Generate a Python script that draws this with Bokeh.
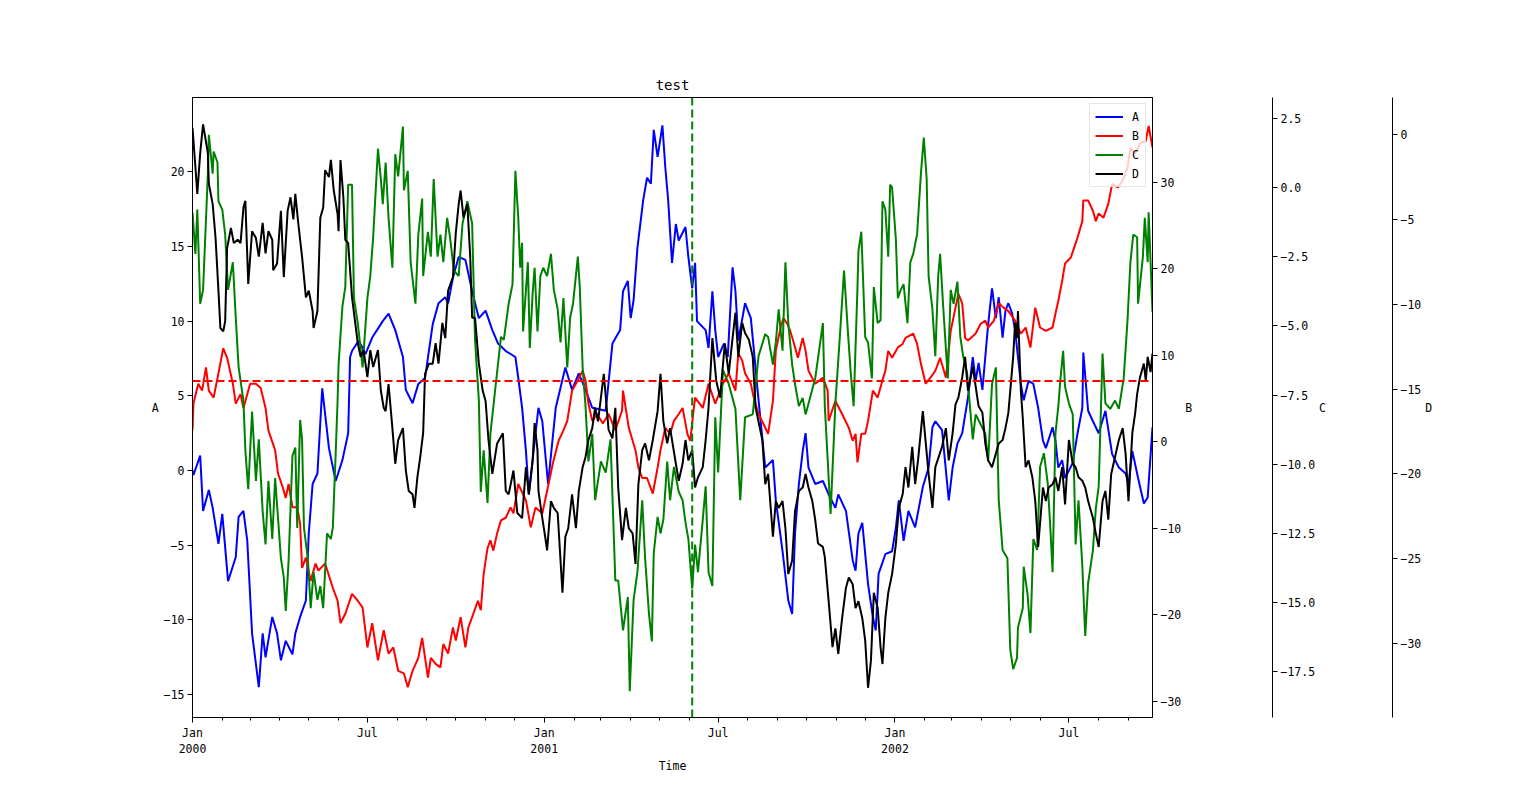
import pandas as pd

from bokeh.plotting import figure
from bokeh.models import Range1d, LinearAxis, FixedTicker, Span
from bokeh.embed import file_html
from bokeh.resources import INLINE

# Set vars
font = "DejaVu Sans Mono"
fsize = "11.5px"
line_width = 2
start_day = "2000-01-01"
end_day = "2002-09-26"
vline_day = "2001-06-04"
hline_a = 6

# Series A (left axis): days since start, values
a_days = [0, 1, 8, 11, 17, 21, 27, 31, 37, 45,
          48, 53, 57, 62, 69, 73, 76, 83, 88, 92,
          97, 104, 107, 112, 118, 121, 125, 130, 135, 142,
          149, 156, 162, 164, 166, 173, 180, 187, 198, 204,
          211, 219, 222, 229, 235, 242, 250, 256, 263, 266,
          271, 277, 284, 291, 298, 305, 312, 318, 326, 336,
          339, 343, 347, 350, 357, 360, 364, 370, 378, 388,
          395, 402, 409, 416, 430, 437, 445, 448, 453, 456,
          459, 463, 469, 473, 477, 480, 484, 489, 492, 495,
          499, 503, 506, 513, 516, 520, 523, 525, 534, 537,
          541, 544, 547, 553, 557, 562, 565, 568, 575, 581,
          584, 588, 596, 604, 607, 614, 620, 624, 627, 631,
          635, 638, 641, 648, 656, 662, 669, 672, 680, 687,
          690, 693, 697, 703, 708, 711, 714, 721, 728, 732,
          735, 740, 745, 752, 760, 766, 770, 773, 780, 787,
          791, 796, 801, 807, 812, 815, 818, 822, 825, 828,
          832, 836, 839, 843, 846, 849, 853, 856, 862, 865,
          870, 875, 880, 885, 888, 895, 898, 901, 905, 908,
          916, 921, 926, 927, 932, 937, 943, 950, 957, 964,
          971, 974, 978, 984, 990, 994, 999]
a_vals = [0.0, -0.3, 1.0, -2.7, -1.3, -2.5, -4.9, -2.9, -7.4, -5.8,
          -3.1, -2.7, -4.7, -10.9, -14.5, -10.9, -12.5, -9.8, -10.9, -12.7,
          -11.4, -12.3, -10.9, -9.8, -8.7, -4.2, -0.9, -0.2, 5.5, 1.5,
          -0.7, 0.7, 2.5, 7.6, 8.0, 8.7, 7.8, 8.9, 10.0, 10.5,
          9.4, 7.6, 5.4, 4.5, 5.8, 6.2, 9.8, 11.2, 11.6, 11.2,
          12.9, 14.3, 14.1, 12.0, 10.2, 10.7, 9.4, 8.5, 8.0, 7.6,
          6.2, 4.2, 1.3, -1.6, 2.5, 4.2, 3.3, -0.9, 4.2, 6.9,
          5.4, 6.5, 5.4, 4.2, 4.0, 8.5, 9.4, 12.0, 12.7, 10.2,
          11.4, 14.9, 18.1, 19.6, 19.2, 22.8, 21.0, 23.1, 20.3, 18.1,
          13.9, 16.5, 15.4, 16.3, 14.3, 12.2, 13.9, 10.0, 9.4, 8.2,
          12.0, 9.4, 7.6, 8.5, 7.6, 13.6, 12.0, 8.7, 11.2, 10.2,
          8.2, 5.4, 0.2, 0.7, -2.0, -5.4, -8.7, -9.6, -4.2, -0.9,
          1.3, 2.5, 0.2, -0.9, -0.7, -1.6, -2.5, -1.6, -2.7, -6.0,
          -6.7, -4.2, -3.5, -7.6, -9.8, -10.7, -6.9, -5.6, -5.4, -3.8,
          -2.0, -4.7, -2.7, -3.8, -1.1, 0.2, 2.9, 3.3, 2.7, -2.0,
          0.2, 1.8, 2.5, 4.9, 7.6, 6.0, 7.2, 5.4, 7.6, 9.8,
          12.2, 10.2, 11.6, 8.9, 10.7, 11.2, 10.5, 9.4, 5.8, 4.7,
          6.0, 5.8, 4.2, 2.0, 1.5, 2.9, 2.0, 0.2, 0.7, -0.5,
          0.5, 2.5, 4.2, 7.9, 4.0, 3.3, 2.5, 4.0, 1.1, 0.2,
          -0.2, -0.9, 1.3, -0.5, -2.2, -1.8, 2.9]

# Series B (right axis)
b_days = [0, 1, 6, 10, 14, 17, 22, 27, 32, 36,
          42, 45, 50, 53, 60, 66, 71, 76, 79, 86,
          89, 94, 97, 100, 104, 109, 112, 114, 118, 123,
          128, 131, 138, 146, 151, 154, 159, 166, 172, 177,
          182, 187, 193, 199, 204, 209, 214, 220, 224, 229,
          235, 239, 245, 248, 253, 258, 261, 266, 271, 274,
          279, 284, 287, 291, 297, 300, 303, 307, 310, 313,
          317, 321, 326, 331, 334, 339, 347, 352, 357, 364,
          369, 375, 381, 386, 390, 395, 401, 406, 409, 412,
          416, 421, 427, 433, 440, 447, 448, 454, 461, 464,
          468, 473, 479, 484, 487, 492, 497, 501, 506, 510,
          515, 518, 521, 523, 531, 537, 544, 552, 558, 565,
          568, 572, 575, 581, 584, 589, 594, 599, 604, 607,
          612, 615, 619, 622, 625, 630, 635, 638, 641, 648,
          656, 661, 662, 669, 676, 683, 687, 690, 692, 696,
          700, 703, 708, 713, 718, 721, 724, 728, 734, 739,
          742, 750, 754, 758, 763, 768, 773, 778, 784, 789,
          794, 797, 801, 804, 807, 815, 820, 825, 828, 834,
          839, 844, 849, 856, 862, 867, 872, 877, 882, 888,
          895, 898, 901, 905, 908, 914, 921, 926, 927, 932,
          937, 940, 943, 948, 953, 957, 963, 968, 973, 976,
          981, 986, 992, 995, 999]
b_vals = [1.3, 4.4, 6.7, 5.9, 8.6, 5.9, 5.1, 7.9, 10.8, 9.7,
          6.7, 4.4, 5.5, 3.9, 6.7, 6.7, 6.2, 3.9, 1.3, -1.0,
          -3.7, -5.3, -6.5, -4.9, -7.6, -7.6, -9.5, -14.6, -13.4, -16.1,
          -14.1, -14.9, -14.1, -16.9, -18.4, -21.0, -19.9, -17.6, -18.4, -19.2,
          -23.8, -21.0, -25.3, -21.8, -24.5, -23.8, -26.5, -26.8, -28.4, -26.5,
          -25.0, -22.7, -27.3, -25.0, -25.7, -26.1, -23.4, -24.5, -21.5, -23.0,
          -20.3, -23.8, -21.5, -20.3, -18.4, -19.5, -15.3, -12.3, -11.4, -12.6,
          -10.6, -9.1, -8.8, -7.6, -8.3, -4.9, -6.8, -9.9, -7.6, -8.3,
          -5.7, -2.5, 0.1, 1.3, 2.4, 5.9, 7.1, 8.2, 7.1, 4.4,
          2.4, 3.2, 2.1, 3.2, 1.3, 3.6, 5.9, 1.6, -1.0, -3.0,
          -4.2, -4.2, -6.0, -3.0, -1.0, 1.6, 0.9, 2.4, 3.2, 3.9,
          0.9, 0.1, 3.2, 5.1, 3.9, 6.7, 4.4, 6.7, 7.9, 5.9,
          10.2, 9.4, 7.9, 6.7, 5.1, 3.2, 2.1, 0.9, 4.7, 10.5,
          13.2, 14.3, 13.6, 12.8, 11.7, 9.7, 12.0, 10.5, 8.2, 6.7,
          7.4, 5.9, 2.4, 4.7, 3.2, 1.6, 0.1, 0.9, -2.4, 0.9,
          0.9, 2.4, 5.9, 5.1, 7.1, 8.2, 10.5, 9.7, 10.9, 11.3,
          12.0, 12.5, 11.3, 9.0, 6.7, 7.4, 8.2, 9.7, 7.4, 12.8,
          15.5, 17.1, 16.0, 12.0, 11.7, 12.5, 13.6, 14.0, 13.2, 14.0,
          16.0, 15.5, 15.1, 14.0, 12.5, 13.2, 10.9, 15.5, 13.2, 12.8,
          13.2, 14.8, 16.3, 18.6, 20.6, 21.3, 23.6, 25.5, 27.9, 27.9,
          26.7, 25.5, 26.4, 25.9, 27.5, 29.8, 29.4, 30.2, 31.7, 34.0,
          33.3, 34.5, 34.8, 36.5, 34.0]

# Series C (second right axis)
c_days = [0, 3, 5, 8, 11, 16, 17, 21, 22, 26,
          27, 31, 34, 37, 42, 45, 48, 53, 55, 58,
          62, 66, 69, 73, 76, 79, 83, 86, 92, 95,
          97, 100, 104, 107, 109, 112, 114, 116, 120, 123,
          126, 130, 133, 136, 140, 144, 146, 149, 151, 152,
          156, 159, 162, 166, 168, 172, 177, 182, 185, 188,
          193, 196, 198, 201, 204, 208, 211, 214, 219, 220,
          224, 227, 232, 235, 239, 240, 245, 248, 251, 255,
          258, 261, 265, 268, 272, 277, 281, 286, 291, 294,
          298, 300, 303, 307, 310, 315, 321, 324, 329, 333,
          336, 339, 341, 343, 344, 349, 351, 354, 356, 359,
          362, 365, 369, 373, 376, 380, 383, 386, 390, 393,
          396, 401, 403, 406, 409, 412, 416, 419, 425, 430,
          435, 440, 443, 448, 453, 455, 459, 463, 468, 471,
          475, 478, 480, 484, 487, 490, 494, 497, 501, 506,
          510, 513, 516, 520, 523, 526, 531, 534, 537, 541,
          544, 547, 552, 558, 565, 570, 575, 583, 589, 596,
          599, 604, 607, 610, 614, 617, 620, 624, 627, 631,
          635, 638, 648, 656, 658, 664, 669, 674, 676, 678,
          682, 685, 688, 692, 693, 696, 700, 703, 707, 709,
          713, 716, 718, 721, 724, 726, 728, 732, 734, 737,
          740, 744, 747, 750, 754, 758, 761, 764, 766, 770,
          773, 776, 778, 781, 786, 789, 792, 796, 799, 802,
          806, 812, 815, 825, 828, 832, 836, 839, 843, 848,
          851, 854, 858, 859, 864, 865, 869, 872, 875, 879,
          882, 886, 890, 893, 895, 898, 901, 903, 906, 908,
          912, 916, 919, 922, 926, 929, 932, 937, 940, 943,
          947, 950, 955, 960, 964, 969, 973, 976, 979, 983,
          984, 989, 991, 994, 995, 999]
c_vals = [-0.9, -2.4, -0.8, -4.2, -3.7, 0.5, 1.9, 0.5, 1.3, 0.9,
          -0.5, -0.8, -1.7, -3.7, -2.7, -4.7, -6.5, -7.7, -9.5, -10.9,
          -8.1, -10.6, -9.1, -11.7, -12.9, -10.6, -12.7, -10.5, -13.4, -14.1,
          -15.3, -13.5, -9.7, -9.4, -12.3, -8.4, -9.1, -12.3, -13.4, -15.2,
          -13.9, -14.9, -14.4, -15.2, -12.5, -12.7, -12.3, -9.6, -7.7, -6.4,
          -4.3, -3.6, 0.1, 0.1, -4.0, -4.9, -6.5, -4.0, -3.2, -1.8,
          1.4, 0.3, -0.6, 0.9, -1.1, -2.9, 1.2, 0.4, 2.2, -0.1,
          0.6, -2.7, -4.2, -1.7, -0.4, -3.2, -1.6, -2.5, 0.3, -2.5,
          -1.7, -2.7, -1.1, -1.8, -3.0, -3.2, -1.3, -0.5, -1.3, -5.5,
          -7.7, -11.0, -9.5, -11.4, -8.9, -7.3, -5.4, -5.5, -4.2, -3.5,
          0.6, -1.1, -2.9, -2.0, -5.2, -2.7, -5.8, -3.8, -2.9, -5.2,
          -3.2, -2.9, -3.2, -2.4, -3.7, -4.4, -5.6, -4.0, -6.5, -4.7,
          -4.2, -2.5, -3.6, -6.5, -7.9, -9.9, -8.9, -11.3, -9.9, -10.3,
          -9.1, -14.2, -14.2, -16.0, -14.8, -18.2, -14.9, -13.9, -11.3, -13.4,
          -15.4, -16.4, -13.2, -11.9, -12.5, -12.0, -9.9, -11.3, -10.1, -11.0,
          -11.3, -12.1, -12.7, -14.5, -12.9, -13.9, -12.0, -10.8, -13.9, -14.4,
          -8.3, -10.3, -6.6, -7.1, -8.0, -11.3, -8.3, -8.2, -6.1, -5.3,
          -5.4, -6.4, -5.6, -4.4, -5.9, -2.7, -4.9, -6.4, -7.1, -7.9,
          -7.6, -8.2, -6.9, -4.9, -7.9, -11.8, -7.8, -5.2, -4.1, -3.0,
          -5.2, -6.7, -7.9, -3.6, -2.3, -1.6, -5.4, -5.6, -6.9, -3.6,
          -4.9, -4.8, -0.5, -0.8, -2.5, 0.1, 0.0, -1.9, -4.0, -3.7,
          -3.5, -4.9, -2.7, -2.4, -1.7, 0.5, 1.8, 0.3, -3.2, -4.4,
          -6.1, -3.2, -2.4, -4.2, -6.9, -3.7, -4.2, -3.4, -5.4, -6.1,
          -6.7, -9.1, -8.2, -8.9, -9.9, -7.1, -6.5, -11.3, -13.1, -13.4,
          -16.7, -17.4, -17.0, -15.9, -15.2, -13.7, -14.7, -16.1, -12.7, -13.1,
          -10.1, -9.6, -10.7, -12.5, -13.9, -8.9, -7.9, -7.0, -5.9, -7.2,
          -7.8, -8.2, -12.9, -11.3, -13.7, -16.2, -14.3, -13.1, -11.6, -10.8,
          -6.0, -7.8, -8.0, -7.7, -8.0, -6.9, -4.8, -2.7, -1.7, -1.8,
          -4.2, -2.5, -1.1, -2.7, -0.9, -4.5]

# Series D (third right axis)
d_days = [0, 3, 5, 8, 11, 16, 17, 21, 24, 27,
          29, 32, 34, 36, 40, 43, 47, 50, 53, 55,
          58, 62, 66, 69, 73, 76, 79, 83, 84, 88,
          92, 95, 99, 102, 105, 107, 110, 114, 118, 121,
          125, 126, 130, 133, 136, 138, 142, 144, 147, 151,
          152, 154, 157, 159, 162, 166, 168, 172, 175, 178,
          182, 185, 188, 193, 196, 199, 201, 204, 208, 211,
          214, 219, 222, 225, 229, 231, 234, 237, 240, 242,
          246, 250, 253, 256, 260, 263, 266, 271, 274, 277,
          279, 282, 286, 289, 291, 294, 298, 302, 305, 308,
          312, 317, 323, 326, 329, 334, 338, 343, 347, 350,
          354, 356, 359, 360, 364, 367, 369, 373, 376, 380,
          385, 388, 391, 395, 399, 402, 406, 409, 412, 416,
          419, 422, 428, 433, 437, 440, 443, 447, 451, 454,
          458, 461, 464, 468, 471, 475, 479, 484, 487, 490,
          494, 497, 503, 506, 510, 513, 516, 520, 523, 526,
          531, 534, 537, 541, 545, 549, 554, 558, 562, 565,
          568, 572, 575, 579, 583, 586, 593, 596, 599, 604,
          607, 610, 614, 617, 620, 624, 627, 631, 635, 638,
          641, 645, 648, 651, 656, 658, 662, 666, 669, 672,
          676, 680, 683, 687, 690, 693, 697, 700, 703, 706,
          709, 713, 716, 718, 721, 724, 728, 732, 735, 739,
          742, 745, 749, 752, 755, 760, 766, 770, 773, 780,
          784, 787, 791, 794, 797, 801, 804, 807, 812, 818,
          822, 825, 828, 832, 839, 843, 846, 849, 854, 856,
          858, 859, 862, 864, 867, 870, 874, 877, 880, 885,
          888, 891, 895, 898, 901, 905, 908, 912, 916, 919,
          922, 926, 929, 932, 937, 940, 943, 947, 950, 953,
          956, 960, 964, 968, 971, 974, 978, 981, 983, 986,
          990, 992, 994, 997, 999]
d_vals = [0.4, -1.9, -3.5, -1.1, 0.6, -1.1, -2.9, -4.1, -6.1, -9.2,
          -11.4, -11.6, -11.0, -6.7, -5.5, -6.4, -6.2, -6.4, -4.3, -3.9,
          -8.8, -5.7, -6.1, -7.2, -5.2, -7.0, -5.7, -6.2, -8.0, -7.6,
          -4.5, -8.4, -4.5, -3.7, -5.0, -3.5, -5.2, -7.2, -9.6, -9.2,
          -10.4, -11.4, -10.4, -4.9, -4.3, -2.1, -2.5, -1.5, -3.3, -4.7,
          -5.7, -1.5, -3.7, -6.2, -6.4, -9.6, -10.5, -12.3, -13.1, -12.7,
          -14.3, -12.7, -13.7, -12.7, -15.1, -16.1, -16.3, -14.7, -17.3, -19.4,
          -18.0, -17.3, -19.8, -21.0, -21.2, -22.0, -20.2, -19.0, -17.6, -14.1,
          -13.5, -13.5, -12.3, -13.5, -11.1, -12.0, -9.2, -8.4, -5.8, -4.1,
          -3.3, -4.9, -4.1, -7.2, -10.8, -10.8, -13.5, -15.1, -15.7, -18.0,
          -20.0, -18.2, -17.6, -21.0, -21.2, -19.8, -22.3, -22.6, -19.6, -21.2,
          -19.2, -17.0, -18.6, -21.0, -22.6, -23.7, -24.5, -21.6, -22.0, -22.3,
          -27.0, -23.7, -23.2, -21.2, -23.2, -21.0, -19.6, -19.0, -18.0, -17.3,
          -16.1, -16.9, -14.1, -17.4, -17.9, -16.1, -20.8, -23.9, -22.0, -23.2,
          -23.5, -25.3, -20.6, -18.6, -18.2, -19.2, -18.0, -16.3, -14.1, -16.9,
          -18.2, -17.3, -19.4, -20.4, -19.4, -18.0, -19.2, -18.6, -20.8, -20.2,
          -19.6, -18.0, -16.1, -12.0, -14.5, -15.5, -12.3, -14.1, -12.0, -10.5,
          -13.1, -11.1, -11.7, -12.1, -13.1, -16.1, -18.0, -20.6, -20.0, -23.7,
          -21.6, -22.0, -21.6, -23.2, -25.9, -25.1, -22.2, -21.0, -20.8, -20.0,
          -20.8, -21.6, -22.7, -24.1, -24.3, -24.9, -27.5, -30.2, -29.1, -30.6,
          -28.5, -26.7, -26.1, -26.5, -27.9, -27.5, -28.5, -29.8, -32.6, -31.0,
          -27.0, -27.9, -30.2, -31.2, -28.5, -27.0, -25.9, -24.1, -22.0, -21.2,
          -19.6, -20.8, -18.4, -20.6, -19.2, -16.3, -20.0, -22.0, -19.6, -18.4,
          -17.3, -19.2, -17.6, -15.9, -15.5, -14.3, -13.1, -15.1, -13.7, -16.0,
          -16.4, -18.2, -19.2, -19.6, -18.2, -18.0, -17.3, -16.4, -13.1, -11.1,
          -12.0, -10.4, -15.1, -16.7, -19.6, -19.2, -20.2, -21.6, -24.3, -20.8,
          -21.6, -20.8, -20.6, -20.2, -21.0, -19.6, -21.8, -18.0, -19.4, -19.6,
          -20.2, -20.4, -20.8, -21.6, -22.6, -23.5, -24.3, -21.6, -21.0, -22.7,
          -20.0, -19.0, -18.0, -17.3, -18.8, -21.6, -17.6, -16.4, -15.3, -14.3,
          -13.5, -14.5, -13.1, -14.0, -12.9]

# Axis ticks
a_ticks = [-15, -10, -5, 0, 5, 10, 15, 20]
b_ticks = [-30, -20, -10, 0, 10, 20, 30]
c_ticks = [-17.5, -15.0, -12.5, -10.0, -7.5, -5.0, -2.5, 0.0, 2.5]
d_ticks = [-30, -25, -20, -15, -10, -5, 0]
x_major = ["2000-01-01", "2000-07-01", "2001-01-01", "2001-07-01", "2002-01-01", "2002-07-01"]
x_major_labels = ["Jan\n2000", "Jul", "Jan\n2001", "Jul", "Jan\n2002", "Jul"]


def ms(day):
    return int(pd.Timestamp(day).value // 10**6)


def minus(s):
    return s.replace("-", "\u2212")


def to_dates(days):
    return pd.Timestamp(start_day) + pd.to_timedelta(days, unit="D")


def style_axis(ax, ticks, labels):
    ax.ticker = FixedTicker(ticks=ticks)
    ax.major_label_overrides = labels
    ax.major_label_text_font = font
    ax.major_label_text_font_size = fsize
    ax.major_label_text_color = "black"
    ax.major_label_standoff = 3
    ax.axis_label_text_font = font
    ax.axis_label_text_font_size = fsize
    ax.axis_label_text_font_style = "normal"
    ax.axis_label_text_color = "black"
    ax.axis_line_color = "black"
    ax.major_tick_line_color = "black"
    ax.major_tick_in = 0
    ax.major_tick_out = 5
    ax.minor_tick_in = 0
    ax.minor_tick_out = 0


def spacer(range_name, gap):
    return LinearAxis(y_range_name=range_name, ticker=FixedTicker(ticks=[]),
                      axis_line_color=None, major_tick_out=0, minor_tick_out=0,
                      major_label_standoff=0, axis_label=" ",
                      axis_label_text_font_size="1px", axis_label_standoff=gap)


# Setup figure
p = figure(width=1520, height=791, x_axis_type="datetime",
           x_range=Range1d(start=pd.Timestamp(start_day), end=pd.Timestamp(end_day)),
           y_range=Range1d(start=-16.53, end=24.97),
           title="test", output_backend="svg", toolbar_location=None,
           min_border_left=192, min_border_right=368,
           min_border_top=97, min_border_bottom=74)
p.xgrid.grid_line_color = None
p.ygrid.grid_line_color = None
p.outline_line_color = "black"
p.outline_line_alpha = 1
p.title.align = "center"
p.title.text_font = font
p.title.text_font_size = "14px"
p.title.text_font_style = "normal"
p.title.text_color = "black"

# x axis: Jan / Jul majors, monthly minors
xax = p.xaxis[0]
style_axis(xax, [ms(d) for d in x_major], {ms(d): l for d, l in zip(x_major, x_major_labels)})
xax.ticker = FixedTicker(ticks=[ms(d) for d in x_major],
                         minor_ticks=[ms(d) for d in pd.date_range(start_day, end_day, freq="MS")])
xax.minor_tick_out = 3
xax.minor_tick_line_color = "black"
xax.axis_label = "Time"
xax.axis_label_standoff = 0

# A on the left
yax = p.yaxis[0]
style_axis(yax, a_ticks, {t: minus(str(t)) for t in a_ticks})
yax.axis_label = "A"
yax.axis_label_standoff = 2
yax.axis_label_orientation = "horizontal"

# Extra axes B, C, D on the right
p.extra_y_ranges = {"B": Range1d(start=-31.9, end=39.8),
                    "C": Range1d(start=-19.15, end=3.25),
                    "D": Range1d(start=-34.35, end=2.18)}
axB = LinearAxis(y_range_name="B", axis_label="B")
style_axis(axB, b_ticks, {t: minus(str(t)) for t in b_ticks})
axC = LinearAxis(y_range_name="C", axis_label="C")
style_axis(axC, c_ticks, {t: minus(f"{t:.1f}") for t in c_ticks})
axD = LinearAxis(y_range_name="D", axis_label="D")
style_axis(axD, d_ticks, {t: minus(str(t)) for t in d_ticks})
for ax in (axB, axC, axD):
    ax.axis_label_standoff = 1
    ax.axis_label_orientation = "horizontal"

p.add_layout(axB, "right")
p.add_layout(spacer("B", 73), "right")
p.add_layout(axC, "right")
p.add_layout(spacer("C", 59), "right")
p.add_layout(axD, "right")

# Lines
p.line(to_dates(a_days), a_vals, color="blue", line_width=line_width, legend_label="A")
p.line(to_dates(b_days), b_vals, color="red", line_width=line_width, legend_label="B", y_range_name="B")
p.line(to_dates(c_days), c_vals, color="green", line_width=line_width, legend_label="C", y_range_name="C")
p.line(to_dates(d_days), d_vals, color="black", line_width=line_width, legend_label="D", y_range_name="D")

# Reference lines
p.add_layout(Span(location=hline_a, dimension="width", line_color="red",
                  line_dash="8 4", line_width=2))
p.add_layout(Span(location=ms(vline_day), dimension="height", line_color="green",
                  line_dash="8 4", line_width=2))

# Legend
lg = p.legend[0]
lg.location = "top_right"
lg.margin = 6
lg.padding = 5
lg.spacing = 4
lg.glyph_width = 28
lg.glyph_height = 15
lg.label_height = 15
lg.label_width = 8
lg.label_standoff = 9
lg.label_text_font = font
lg.label_text_font_size = fsize
lg.label_text_color = "black"
lg.border_line_color = "#cccccc"
lg.background_fill_alpha = 0.8

open("out.html", "w").write(file_html(p, INLINE))
